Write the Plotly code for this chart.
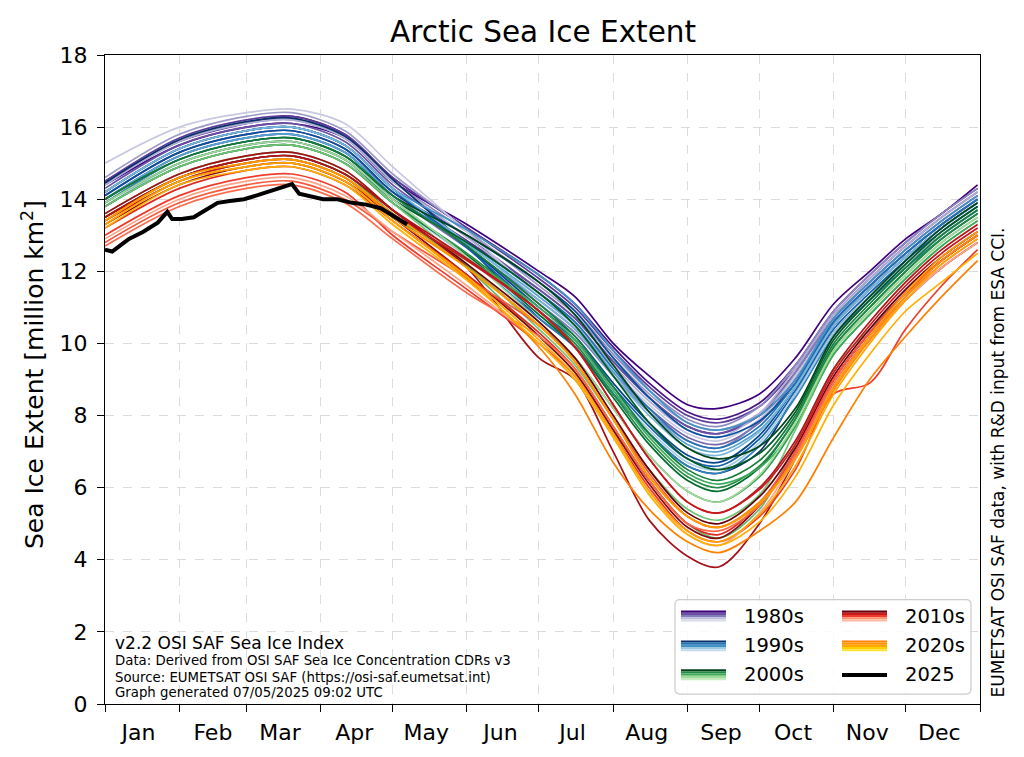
import plotly.graph_objects as go

# ---------------- data ----------------
month_names = ["Jan", "Feb", "Mar", "Apr", "May", "Jun", "Jul", "Aug", "Sep", "Oct", "Nov", "Dec"]
month_starts = [0, 31, 59, 90, 120, 151, 181, 212, 243, 273, 304, 334, 365]
month_label_days = [14, 45, 73, 104, 134, 165, 195, 226, 257, 287, 318, 348]
sample_days = [0, 31, 59, 78, 100, 120, 151, 181, 196, 212, 227, 243, 256, 273, 288, 304, 319, 334, 349, 364]

# 1980s (million km2)
y1979 = [14.4, 15.5, 16.0, 16.1, 15.7, 14.5, 13.3, 12.0, 11.3, 10.0, 9.1, 8.3, 8.2, 8.6, 9.6, 11.1, 12.0, 12.9, 13.6, 14.4]
y1980 = [14.5, 15.6, 16.1, 16.3, 15.8, 14.6, 13.2, 11.9, 11.1, 9.9, 8.9, 8.1, 7.9, 8.35, 9.4, 10.9, 11.9, 12.8, 13.6, 14.3]
y1981 = [14.1, 15.3, 15.8, 15.9, 15.4, 14.2, 12.85, 11.5, 10.7, 9.5, 8.5, 7.7, 7.5, 8.0, 9.1, 10.6, 11.6, 12.5, 13.3, 14.0]
y1982 = [14.5, 15.7, 16.2, 16.3, 15.8, 14.6, 13.2, 11.8, 11.0, 9.8, 8.8, 8.0, 7.8, 8.25, 9.3, 10.8, 11.8, 12.7, 13.5, 14.2]
y1983 = [14.3, 15.5, 16.0, 16.1, 15.6, 14.4, 12.95, 11.5, 10.7, 9.5, 8.5, 7.7, 7.5, 8.05, 9.2, 10.7, 11.7, 12.6, 13.4, 14.1]
y1984 = [14.0, 15.2, 15.7, 15.8, 15.3, 14.1, 12.65, 11.2, 10.4, 9.2, 8.2, 7.4, 7.2, 7.8, 9.0, 10.5, 11.5, 12.4, 13.2, 13.9]
y1985 = [14.2, 15.4, 15.9, 16.0, 15.5, 14.3, 12.7, 11.1, 10.3, 9.1, 8.1, 7.3, 7.1, 7.85, 9.2, 10.7, 11.7, 12.6, 13.4, 14.1]
y1986 = [14.4, 15.6, 16.1, 16.2, 15.7, 14.5, 13.1, 11.7, 10.9, 9.7, 8.7, 7.9, 7.7, 8.25, 9.4, 10.9, 11.9, 12.8, 13.6, 14.3]
y1987 = [14.6, 15.8, 16.3, 16.4, 15.9, 14.7, 13.15, 11.6, 10.8, 9.6, 8.6, 7.8, 7.6, 8.05, 9.1, 10.6, 11.6, 12.5, 13.3, 14.0]
y1988 = [14.4, 15.6, 16.1, 16.2, 15.7, 14.5, 12.95, 11.4, 10.6, 9.4, 8.4, 7.6, 7.4, 8.05, 9.3, 10.8, 11.8, 12.7, 13.5, 14.2]
y1989 = [15.0, 16.0, 16.4, 16.5, 16.1, 14.9, 13.1, 11.3, 10.5, 9.3, 8.3, 7.5, 7.3, 7.9, 9.1, 10.6, 11.6, 12.5, 13.3, 14.0]

# 1990s
y1990 = [14.45, 15.65, 16.15, 16.25, 15.75, 14.55, 12.7, 10.7, 9.9, 8.6, 7.5, 6.6, 6.4, 7.0, 8.6, 10.3, 11.3, 12.2, 13.0, 13.7]
y1991 = [14.2, 15.4, 15.9, 16.0, 15.5, 14.3, 12.7, 11.0, 10.2, 8.9, 7.8, 6.9, 6.7, 7.45, 8.8, 10.5, 11.5, 12.4, 13.2, 13.9]
y1992 = [14.1, 15.3, 15.8, 15.9, 15.4, 14.2, 13.0, 11.7, 10.9, 9.6, 8.5, 7.6, 7.4, 7.85, 8.9, 10.6, 11.6, 12.5, 13.3, 14.0]
y1993 = [14.2, 15.4, 15.9, 16.0, 15.5, 14.3, 12.65, 10.9, 10.1, 8.8, 7.7, 6.8, 6.6, 7.35, 8.7, 10.4, 11.4, 12.3, 13.1, 13.8]
y1994 = [14.0, 15.2, 15.7, 15.8, 15.3, 14.1, 12.8, 11.4, 10.6, 9.3, 8.2, 7.3, 7.1, 7.7, 8.9, 10.6, 11.6, 12.5, 13.3, 14.0]
y1995 = [13.9, 15.1, 15.6, 15.7, 15.2, 14.0, 12.4, 10.7, 9.9, 8.6, 7.5, 6.6, 6.4, 7.15, 8.5, 10.2, 11.2, 12.1, 12.9, 13.6]
y1996 = [14.2, 15.4, 15.9, 16.0, 15.5, 14.3, 13.15, 11.9, 11.1, 9.8, 8.7, 7.8, 7.6, 8.0, 9.0, 10.7, 11.7, 12.6, 13.4, 14.1]
y1997 = [14.0, 15.2, 15.7, 15.8, 15.3, 14.1, 12.75, 11.3, 10.5, 9.2, 8.1, 7.2, 7.0, 7.6, 8.8, 10.5, 11.5, 12.4, 13.2, 13.9]
y1998 = [14.2, 15.4, 15.9, 16.0, 15.5, 14.3, 12.8, 11.2, 10.4, 9.1, 8.0, 7.1, 6.9, 7.55, 8.8, 10.5, 11.5, 12.4, 13.2, 13.9]
y1999 = [13.8, 15.0, 15.5, 15.6, 15.1, 13.9, 12.4, 10.8, 10.0, 8.7, 7.6, 6.7, 6.5, 7.25, 8.6, 10.3, 11.3, 12.2, 13.0, 13.7]

# 2000s
y2000 = [14.0, 15.1, 15.6, 15.7, 15.2, 14.1, 13.0, 11.7, 10.8, 9.4, 8.1, 7.1, 6.8, 7.15, 8.2, 10.2, 11.3, 12.3, 13.2, 13.9]
y2001 = [13.9, 15.0, 15.5, 15.6, 15.1, 14.0, 12.8, 11.4, 10.5, 9.1, 7.8, 6.8, 6.5, 6.95, 8.1, 10.1, 11.2, 12.2, 13.1, 13.8]
y2002 = [13.8, 14.9, 15.4, 15.5, 15.0, 13.9, 12.45, 10.8, 9.9, 8.5, 7.2, 6.2, 5.9, 6.55, 7.9, 9.9, 11.0, 12.0, 12.9, 13.6]
y2003 = [14.0, 15.1, 15.6, 15.7, 15.2, 14.1, 12.7, 11.1, 10.2, 8.8, 7.5, 6.5, 6.2, 6.75, 8.0, 10.0, 11.1, 12.1, 13.0, 13.7]
y2004 = [13.8, 14.9, 15.4, 15.5, 15.0, 13.9, 12.5, 10.9, 10.0, 8.6, 7.3, 6.3, 6.0, 6.6, 7.9, 9.9, 11.0, 12.0, 12.9, 13.6]
y2005 = [13.5, 14.6, 15.1, 15.2, 14.7, 13.6, 12.15, 10.5, 9.6, 8.2, 6.9, 5.9, 5.6, 6.3, 7.7, 9.7, 10.8, 11.8, 12.7, 13.4]
y2006 = [13.4, 14.5, 15.0, 15.1, 14.6, 13.5, 12.35, 11.0, 10.1, 8.7, 7.4, 6.4, 6.1, 6.55, 7.7, 9.7, 10.8, 11.8, 12.7, 13.4]
y2007 = [13.6, 14.7, 15.2, 15.3, 14.8, 13.7, 12.1, 10.2, 9.2, 7.6, 6.2, 5.0, 4.6, 5.4, 7.2, 9.3, 10.4, 11.4, 12.3, 13.0]
y2008 = [13.8, 14.9, 15.4, 15.5, 15.0, 13.9, 12.2, 10.4, 9.4, 7.9, 6.5, 5.4, 5.1, 5.8, 7.6, 9.8, 10.9, 11.9, 12.8, 13.5]
y2009 = [13.9, 15.0, 15.5, 15.6, 15.1, 14.0, 12.4, 10.6, 9.6, 8.2, 6.9, 5.9, 5.6, 6.35, 7.8, 9.8, 10.9, 11.9, 12.8, 13.5]

# 2010s
y2010 = [13.5, 14.6, 15.1, 15.2, 14.7, 13.7, 12.2, 10.6, 9.6, 8.0, 6.5, 5.3, 5.0, 5.75, 7.1, 9.1, 10.4, 11.5, 12.4, 13.1]
y2011 = [13.3, 14.4, 14.9, 15.0, 14.5, 13.5, 11.9, 10.2, 9.2, 7.6, 6.1, 4.9, 4.6, 5.5, 7.0, 9.0, 10.3, 11.4, 12.3, 13.0]
y2012 = [13.6, 14.7, 15.2, 15.3, 14.8, 13.7, 12.1, 9.6, 9.0, 7.0, 5.1, 4.1, 3.8, 5.0, 6.8, 8.8, 10.1, 11.2, 12.1, 12.8]
y2013 = [13.5, 14.6, 15.1, 15.2, 14.7, 13.7, 12.35, 10.9, 9.9, 8.3, 6.8, 5.6, 5.3, 6.0, 7.3, 9.3, 10.6, 11.7, 12.6, 13.3]
y2014 = [13.4, 14.5, 15.0, 15.1, 14.6, 13.6, 12.3, 10.9, 9.9, 8.3, 6.8, 5.6, 5.3, 5.95, 7.2, 9.2, 10.5, 11.6, 12.5, 13.2]
y2015 = [13.2, 14.3, 14.8, 14.9, 14.4, 13.4, 11.9, 10.3, 9.3, 7.7, 6.2, 5.0, 4.7, 5.55, 7.0, 9.0, 10.3, 11.4, 12.3, 13.0]
y2016 = [13.0, 14.1, 14.6, 14.7, 14.2, 13.0, 11.5, 10.0, 9.1, 7.5, 6.0, 4.8, 4.5, 5.2, 6.5, 8.6, 8.9, 10.4, 11.6, 12.6]
y2017 = [12.8, 13.9, 14.4, 14.5, 14.0, 13.1, 11.8, 10.5, 9.5, 7.9, 6.4, 5.2, 4.9, 5.6, 7.0, 9.0, 10.3, 11.4, 12.3, 13.0]
y2018 = [12.7, 13.8, 14.3, 14.4, 13.9, 12.9, 11.4, 10.2, 9.3, 7.7, 6.2, 5.0, 4.8, 5.5, 6.9, 8.9, 10.2, 11.3, 12.2, 12.9]
y2019 = [12.9, 14.0, 14.5, 14.6, 14.1, 13.1, 11.6, 10.0, 9.0, 7.4, 5.9, 4.7, 4.4, 5.3, 6.8, 8.8, 10.1, 11.2, 12.1, 12.8]

# 2020s
y2020 = [13.3, 14.5, 14.9, 15.0, 14.5, 13.4, 11.8, 9.9, 8.6, 6.7, 5.4, 4.5, 4.2, 4.8, 5.6, 7.4, 9.0, 10.2, 11.3, 12.3]
y2021 = [13.4, 14.6, 15.0, 15.1, 14.6, 13.5, 12.1, 10.5, 9.5, 7.9, 6.3, 5.2, 4.9, 5.6, 6.8, 8.7, 10.1, 11.3, 12.3, 13.0]
y2022 = [13.4, 14.6, 15.0, 15.1, 14.6, 13.6, 12.1, 10.5, 9.5, 7.9, 6.3, 5.2, 4.9, 5.55, 6.8, 8.8, 10.2, 11.4, 12.4, 13.1]
y2023 = [13.3, 14.5, 14.9, 15.0, 14.5, 13.4, 11.85, 10.1, 9.1, 7.5, 5.9, 4.8, 4.5, 5.25, 6.6, 8.6, 10.0, 11.2, 12.2, 12.9]
y2024 = [13.2, 14.4, 14.8, 14.9, 14.4, 13.3, 11.75, 10.0, 9.0, 7.4, 5.8, 4.7, 4.4, 5.05, 6.3, 8.3, 9.7, 10.9, 11.7, 12.5]

# 2025 (to 7 May)
days_2025 = [0, 3, 6, 10, 16, 22, 26, 28, 32, 37, 42, 47, 52, 58, 63, 68, 73, 78, 81, 85, 91, 97, 103, 109, 115, 120, 126]
y2025 = [12.6, 12.55, 12.7, 12.9, 13.1, 13.35, 13.65, 13.45, 13.45, 13.5, 13.7, 13.9, 13.95, 14.0, 14.1, 14.2, 14.3, 14.42, 14.15, 14.1, 14.0, 14.0, 13.9, 13.85, 13.75, 13.55, 13.3]

decade_labels = ["1980s", "1990s", "2000s", "2010s", "2020s"]
years_1980s = [1979, 1980, 1981, 1982, 1983, 1984, 1985, 1986, 1987, 1988, 1989]
years_1990s = [1990, 1991, 1992, 1993, 1994, 1995, 1996, 1997, 1998, 1999]
years_2000s = [2000, 2001, 2002, 2003, 2004, 2005, 2006, 2007, 2008, 2009]
years_2010s = [2010, 2011, 2012, 2013, 2014, 2015, 2016, 2017, 2018, 2019]
years_2020s = [2020, 2021, 2022, 2023, 2024]

series = {
    1979: y1979, 1980: y1980, 1981: y1981, 1982: y1982, 1983: y1983, 1984: y1984,
    1985: y1985, 1986: y1986, 1987: y1987, 1988: y1988, 1989: y1989,
    1990: y1990, 1991: y1991, 1992: y1992, 1993: y1993, 1994: y1994,
    1995: y1995, 1996: y1996, 1997: y1997, 1998: y1998, 1999: y1999,
    2000: y2000, 2001: y2001, 2002: y2002, 2003: y2003, 2004: y2004,
    2005: y2005, 2006: y2006, 2007: y2007, 2008: y2008, 2009: y2009,
    2010: y2010, 2011: y2011, 2012: y2012, 2013: y2013, 2014: y2014,
    2015: y2015, 2016: y2016, 2017: y2017, 2018: y2018, 2019: y2019,
    2020: y2020, 2021: y2021, 2022: y2022, 2023: y2023, 2024: y2024,
}

# ---------------- styles ----------------
pal_80 = ['#3f007d', '#4a1486', '#54278f', '#5f3c99', '#6a51a3', '#7566ae', '#807dba', '#8f8bc1', '#9e9ac8', '#b0afd4', '#c8c8e2']
pal_90 = ['#08306b', '#08468a', '#08519c', '#1361a9', '#2171b5', '#3282be', '#4292c6', '#5ba3d0', '#7ab6d9', '#a6cde4']
pal_00 = ['#00441b', '#005a24', '#006d2c', '#137d39', '#238b45', '#329b51', '#41ab5d', '#5bb86a', '#74c476', '#a1d99b']
pal_10 = ['#67000d', '#860811', '#a50f15', '#b81419', '#cb181d', '#dd2a25', '#ef3b2c', '#f55a3e', '#fb6a4a', '#fca588']
pal_20 = ['#ff7f00', '#ff8c00', '#ff9a00', '#ffa500', '#ffb000']

legend_stripes = {
    "1980s": ['#3f007d', '#6a51a3', '#807dba', '#bcbddc', '#dadaeb'],
    "1990s": ['#08306b', '#2171b5', '#4292c6', '#9ecae1', '#c6dbef'],
    "2000s": ['#00441b', '#238b45', '#41ab5d', '#a1d99b', '#c7e9c0'],
    "2010s": ['#67000d', '#cb181d', '#ef3b2c', '#fc9272', '#fcbba1'],
    "2020s": ['#ff7f00', '#ff9500', '#ffa500', '#ffd000', '#ffe135'],
}

FONT = "DejaVu Sans"
W, H = 1024, 757
PL, PR, PT, PB = 105, 980, 55, 708


def px(xp):
    return (xp - PL) / (PR - PL)


def py(yp):
    return (PB - yp) / (PB - PT)


fig = go.Figure()

for years, pal in [(years_1980s, pal_80), (years_1990s, pal_90), (years_2000s, pal_00),
                   (years_2010s, pal_10), (years_2020s, pal_20)]:
    for yr, col in zip(years, pal):
        fig.add_trace(go.Scatter(
            x=sample_days, y=series[yr], mode="lines", name=str(yr),
            line=dict(color=col, width=1.7, shape="spline", smoothing=0.9),
            hoverinfo="skip"))

fig.add_trace(go.Scatter(x=days_2025, y=y2025, mode="lines", name="2025",
                         line=dict(color="black", width=4), hoverinfo="skip"))

fig.update_layout(
    width=W, height=H,
    margin=dict(l=PL, r=W - PR, t=PT, b=H - PB, pad=0),
    paper_bgcolor="white", plot_bgcolor="white",
    showlegend=False,
    font=dict(family=FONT, color="black"),
)

fig.update_xaxes(
    range=[0, 365], tickmode="array", tickvals=month_label_days, ticktext=month_names,
    ticks="outside", ticklen=8, tickcolor="rgba(0,0,0,0)", tickfont=dict(size=22, family=FONT),
    showgrid=False, zeroline=False, showline=True, linecolor="black", linewidth=1.4, mirror=True,
    minor=dict(tickmode="array", tickvals=month_starts, ticks="outside", ticklen=7, tickwidth=1.4,
               tickcolor="black", showgrid=True, gridcolor="#dcdcdc", griddash="dash", gridwidth=0.8),
)
fig.update_yaxes(
    range=[0, 18], tickmode="array", tickvals=list(range(0, 19, 2)),
    ticks="outside", ticklen=7, tickwidth=1.4, tickcolor="black", tickfont=dict(size=22, family=FONT),
    ticklabelstandoff=5,
    showgrid=True, gridcolor="#dcdcdc", griddash="dash", gridwidth=0.8,
    zeroline=False, showline=True, linecolor="black", linewidth=1.4, mirror=True,
)

ann = []
ann.append(dict(text="Arctic Sea Ice Extent", x=0.5, y=py(32), xref="paper", yref="paper",
                showarrow=False, font=dict(size=29.5, family=FONT), xanchor="center", yanchor="middle"))
ann.append(dict(text="Sea Ice Extent [million km<sup>2</sup>]", x=px(33), y=py(377), xref="paper", yref="paper",
                showarrow=False, textangle=-90, font=dict(size=25, family=FONT), xanchor="center", yanchor="middle"))
ann.append(dict(text="EUMETSAT OSI SAF data, with R&D input from ESA CCI.", x=px(998), y=py(465),
                xref="paper", yref="paper", showarrow=False, textangle=-90,
                font=dict(size=17, family=FONT), xanchor="center", yanchor="middle"))

info_lines = [
    ("v2.2 OSI SAF Sea Ice Index", 17, 647),
    ("Data: Derived from OSI SAF Sea Ice Concentration CDRs v3", 13.3, 664),
    ("Source: EUMETSAT OSI SAF (https://osi-saf.eumetsat.int)", 13.3, 681),
    ("Graph generated 07/05/2025 09:02 UTC", 13.3, 696),
]
for txt, fs, yy in info_lines:
    ann.append(dict(text=txt, x=px(113), y=py(yy), xref="paper", yref="paper", showarrow=False,
                    font=dict(size=fs, family=FONT), xanchor="left", yanchor="middle"))

shapes = []
# legend frame with rounded corners
x0, x1, y0, y1, r = 675, 971, 603, 698, 5
rx, ry = r / (PR - PL), r / (PB - PT)
X0, X1, Y0, Y1 = px(x0), px(x1), py(y0), py(y1)
path = (f"M {X0+rx},{Y0} L {X1-rx},{Y0} Q {X1},{Y0} {X1},{Y0-ry} L {X1},{Y1+ry} "
        f"Q {X1},{Y1} {X1-rx},{Y1} L {X0+rx},{Y1} Q {X0},{Y1} {X0},{Y1+ry} L {X0},{Y0-ry} "
        f"Q {X0},{Y0} {X0+rx},{Y0} Z")
shapes.append(dict(type="path", path=path, xref="paper", yref="paper",
                   fillcolor="rgba(255,255,255,0.85)", line=dict(color="#cccccc", width=1.2), layer="above"))

legend_rows = [("1980s", 681, 742, 619.5), ("1990s", 681, 742, 649.5), ("2000s", 681, 742, 678.5),
               ("2010s", 842, 903, 619.5), ("2020s", 842, 903, 649.5)]
for lab, sx, tx, cy in legend_rows:
    cols = legend_stripes[lab]
    n = len(cols)
    hgt = 11.0
    top = cy - hgt / 2
    for i, c in enumerate(cols):
        shapes.append(dict(type="rect", xref="paper", yref="paper",
                           x0=px(sx), x1=px(sx + 45), y0=py(top + i * hgt / n), y1=py(top + (i + 1) * hgt / n),
                           fillcolor=c, line=dict(width=0), layer="above"))
    ann.append(dict(text=lab, x=px(tx), y=py(cy), xref="paper", yref="paper", showarrow=False,
                    font=dict(size=19.5, family=FONT), xanchor="left", yanchor="middle"))
shapes.append(dict(type="line", xref="paper", yref="paper", x0=px(842), x1=px(887), y0=py(678.8), y1=py(678.8),
                   line=dict(color="black", width=4), layer="above"))
ann.append(dict(text="2025", x=px(903), y=py(678.5), xref="paper", yref="paper", showarrow=False,
                font=dict(size=19.5, family=FONT), xanchor="left", yanchor="middle"))

fig.update_layout(annotations=ann, shapes=shapes)
fig.write_html("out.html")
